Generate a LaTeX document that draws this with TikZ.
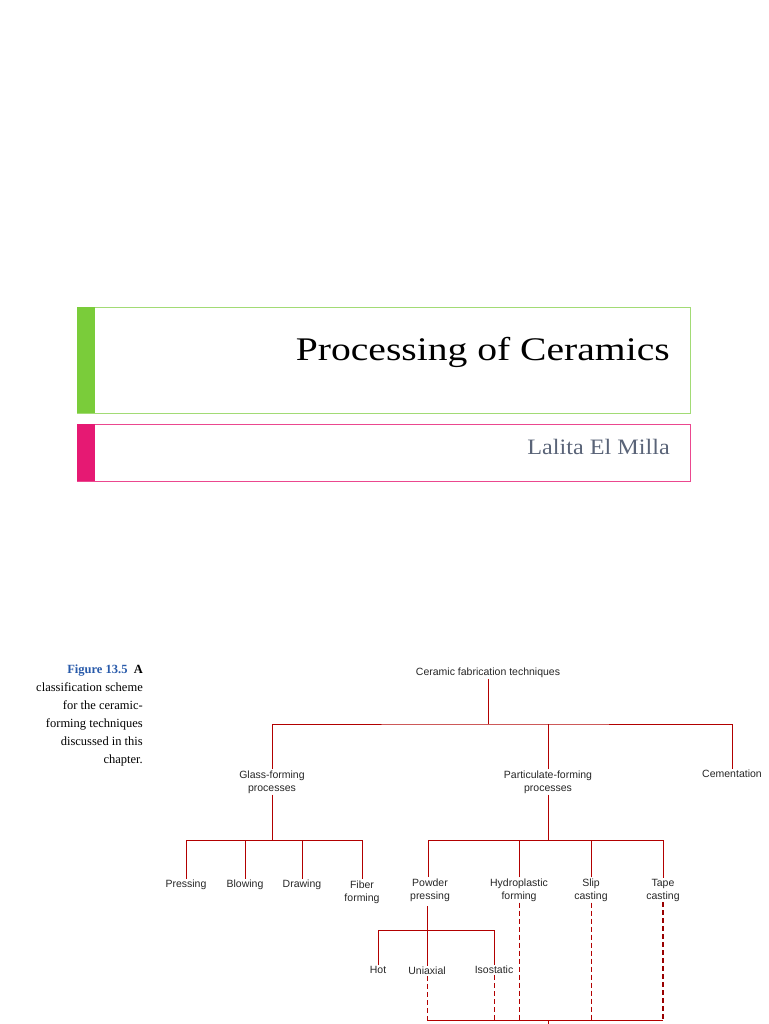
\documentclass[tikz,border=0pt]{standalone}
\usepackage{fontspec}
\setmainfont{Liberation Serif}
\newfontfamily\diagfont{Liberation Sans}
\begin{document}
\begin{tikzpicture}[x=1pt,y=-1pt,
  ln/.style={draw=red!70!black, line width=0.9pt},
  dl/.style={ln, dash pattern=on 5pt off 3pt},
  lbl/.style={font=\diagfont\fontsize{10.5}{13}\selectfont, align=center, inner sep=1pt, text=black!85}]
\useasboundingbox (0,0) rectangle (768,1024);
\definecolor{grn}{RGB}{122,204,58}
\definecolor{pnk}{RGB}{230,25,115}
\definecolor{sub}{RGB}{90,100,120}
\definecolor{figblue}{RGB}{40,90,170}
% title boxes
\draw[grn!70, line width=0.8pt] (77,307) rectangle (690,413);
\fill[grn] (77,307) rectangle (95,413);
\node[anchor=east, font=\fontsize{33}{38}\selectfont, inner sep=0pt, xscale=1.2] (title) at (670,352) {Processing of Ceramics};
\draw[pnk!80, line width=0.8pt] (77,424) rectangle (690,481);
\fill[pnk] (77,424) rectangle (95,481);
\node[anchor=east, text=sub, font=\fontsize{22}{26}\selectfont, inner sep=0pt, xscale=1.1] (author) at (670,447) {Lalita El Milla};
% caption
\node[anchor=north east, align=right, font=\fontsize{12.5}{18}\selectfont, inner sep=0pt] (cap) at (143,665)
 {\textcolor{figblue}{\textbf{Figure 13.5}}\enspace \textbf{A}\\classification scheme\\for the ceramic-\\forming techniques\\discussed in this\\chapter.};
% nodes
\node[lbl] (root) at (488,673) {Ceramic fabrication techniques};
\node[lbl] (glass) at (272,782) {Glass-forming\\processes};
\node[lbl] (part) at (548,782) {Particulate-forming\\processes};
\node[lbl] (cem) at (732,774) {Cementation};
\node[lbl] (press) at (186,885) {Pressing};
\node[lbl] (blow) at (245,885) {Blowing};
\node[lbl] (draw) at (302,885) {Drawing};
\node[lbl] (fiber) at (362,892) {Fiber\\forming};
\node[lbl] (powder) at (430,890) {Powder\\pressing};
\node[lbl] (hydro) at (519,890) {Hydroplastic\\forming};
\node[lbl] (slip) at (591,890) {Slip\\casting};
\node[lbl] (tape) at (663,890) {Tape\\casting};
\node[lbl] (hot) at (378,970) {Hot};
\node[lbl] (uni) at (427,971) {Uniaxial};
\node[lbl] (iso) at (494,970) {Isostatic};
\coordinate (j1) at (488,724);
\coordinate (j2) at (272,840);
\coordinate (j3) at (548,840);
\coordinate (j4) at (427,930);
\coordinate (bot) at (548,1020);
\coordinate (botend) at (548,1024);
% connectors
\draw[ln] (root.south) -- (j1);
\draw[ln] (glass.north) |- (j1) -| (cem.north);
\draw[ln] (part.north) -- (part.north |- j1);
\draw[ln] (glass.south) -- (j2);
\draw[ln] (press.north) |- (j2) -| (fiber.north);
\draw[ln] (blow.north) -- (blow.north |- j2);
\draw[ln] (draw.north) -- (draw.north |- j2);
\draw[ln] (part.south) -- (j3);
\draw[ln] (428,877) |- (j3) -| (tape.north);
\draw[ln] (hydro.north) -- (hydro.north |- j3);
\draw[ln] (slip.north) -- (slip.north |- j3);
\draw[ln] (427,906) -- (uni.north);
\draw[ln] (hot.north) |- (j4) -| (iso.north);
\draw[dl] (uni.south) -- (uni.south |- bot);
\draw[dl] (iso.south) -- (iso.south |- bot);
\draw[dl] (hydro.south) -- (hydro.south |- bot);
\draw[dl] (slip.south) -- (slip.south |- bot);
\draw[dl, line width=1.4pt, draw=red!60!black] (tape.south) -- (tape.south |- bot);
\draw[ln] (uni.south |- bot) -- (tape.south |- bot);
\draw[ln] (bot) -- (botend);
\end{tikzpicture}
\end{document}
